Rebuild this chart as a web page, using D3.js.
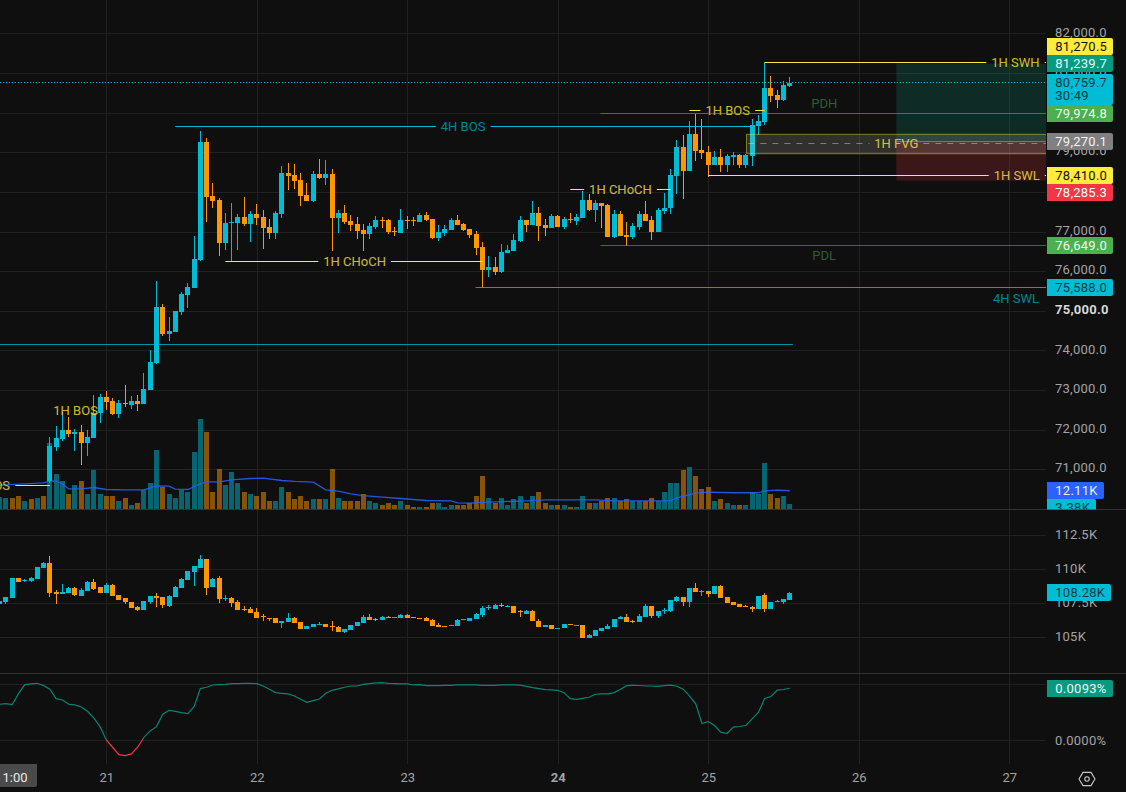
<!DOCTYPE html>
<html><head><meta charset="utf-8">
<script src="https://cdnjs.cloudflare.com/ajax/libs/d3/7.8.5/d3.min.js"></script>
<style>
html,body{margin:0;padding:0;background:#0f0f0f;overflow:hidden}
svg{display:block}
text{font-family:Roboto,"Noto Sans",sans-serif}
</style></head><body><svg id="c" width="1126" height="792"></svg>
<script>
// Hourly candles, main pane, bars 0..118: [open, high, low, close]
const priceOHLC=[[70700,71820,70650,71586],[71560,72089,71460,71778],[71762,72449,71711,71988],[71988,72315,71820,71879],[71888,72005,71460,71938],[71938,72114,71107,71661],[71661,71988,71342,71812],[71787,72869,71787,72424],[72416,72894,72164,72818],[72818,72969,72491,72693],[72718,72793,72366,72391],[72391,72760,72290,72667],[72667,73120,72575,72642],[72617,72844,72517,72718],[72718,72869,72466,72642],[72642,73431,72642,73020],[72995,74001,72995,73699],[73674,75762,73649,75108],[75108,75184,74353,74404],[74404,74856,74228,74479],[74454,75007,74454,75007],[74982,75486,74882,75435],[75410,75712,75083,75611],[75586,76894,75586,76316],[76291,79536,76266,79260],[79260,79360,77247,77876],[77901,78228,77599,77775],[77800,77851,76391,76718],[76718,77473,76542,77222],[77230,77725,76232,77247],[77222,77448,76542,77373],[77373,77876,77146,77196],[77196,77524,76743,77448],[77448,77700,77171,77347],[77373,77549,76567,77096],[77121,77322,76819,76970],[76970,77524,76819,77473],[77448,78656,77347,78480],[78480,78731,78052,78404],[78429,78706,78077,78278],[78304,78480,77649,77901],[77926,78228,77775,77775],[77775,78530,77750,78454],[78454,78832,78329,78354],[78354,78807,78178,78454],[78454,78580,76517,77347],[77347,77549,76970,77473],[77473,77675,77196,77247],[77272,77423,77020,77171],[77196,77373,76819,77020],[77045,77196,76517,76945],[76945,77222,76819,77146],[77121,77398,77071,77297],[77297,77373,77096,77272],[77297,77322,76945,76995],[77020,77121,76894,76995],[76970,77574,76970,77297],[77297,77398,77071,77272],[77297,77373,77146,77272],[77247,77473,77247,77423],[77423,77498,77272,77297],[77322,77322,76819,76844],[76844,77171,76769,76995],[76970,77171,76894,77071],[77045,77347,77045,77297],[77297,77423,77171,77171],[77196,77222,77020,77045],[77071,77071,76844,76920],[76945,77020,76416,76593],[76618,76743,75578,76039],[76039,76391,75863,76115],[76115,76366,75913,75989],[75989,76693,75964,76492],[76467,76668,76467,76542],[76517,76945,76517,76794],[76769,77398,76743,77297],[77297,77297,76995,77171],[77171,77775,77171,77473],[77473,77624,76769,77146],[77171,77322,76894,77096],[77096,77448,77096,77398],[77398,77423,77121,77121],[77121,77373,77071,77322],[77322,77473,77222,77297],[77272,77448,77171,77373],[77347,78027,77347,77800],[77800,77951,77524,77549],[77549,77800,77247,77725],[77725,77725,77096,77649],[77675,77700,76869,76869],[76869,77549,76844,77448],[77448,77524,76894,76894],[76920,77247,76635,76869],[76869,77222,76819,77146],[77121,77524,77045,77448],[77448,77775,77272,77272],[77297,77398,76794,76995],[76995,77599,76995,77549],[77524,77985,77440,77591],[77582,78572,77440,78429],[78404,79310,77960,79134],[79134,79436,77809,78530],[78530,79788,78530,79461],[79461,79964,78782,79033],[79058,79838,78832,78983],[79008,79159,78379,78681],[78681,79033,78681,78882],[78882,79083,78505,78681],[78681,78958,78505,78907],[78882,79008,78681,78933],[78933,78958,78605,78681],[78681,78958,78605,78933],[78907,79838,78656,79687],[79662,79939,79436,79788],[79763,81270,79687,80618],[80618,80920,80266,80417],[80442,80568,80115,80316],[80316,80794,80291,80694],[80669,80895,80644,80760]];
// Volume in thousands, bars -8..-1, then 0..118
const volumeBefore=[8.0,7.1,7.7,8.4,5.2,6.5,7.7,8.4];
const volumeBeforeUp=[1,1,0,0,1,0,1,0];
const volumeK=[42.6,22.6,18.1,10.3,15.5,18.7,10.3,25.8,9.7,9.0,9.0,5.2,7.1,3.2,4.5,12.9,16.8,38.1,14.8,10.3,7.1,12.9,11.6,37.4,58.1,50.3,11.6,26.4,16.1,23.9,16.8,11.6,9.7,9.0,11.0,5.8,5.8,14.2,11.0,6.5,8.4,5.2,6.5,6.5,6.5,26.4,7.1,5.2,5.8,5.8,9.7,5.2,3.9,3.2,3.9,3.2,5.2,3.2,1.9,1.9,1.9,3.9,3.9,1.9,2.6,3.2,2.6,3.9,8.4,21.9,7.1,4.5,7.7,3.2,6.5,9.0,3.9,8.4,11.0,4.5,3.2,2.6,3.2,1.9,1.9,8.4,3.9,4.5,5.8,7.1,7.1,5.2,6.5,5.2,5.2,5.2,7.7,5.6,11.0,16.8,17.4,25.2,27.7,21.9,13.5,14.8,5.8,6.5,3.9,2.6,2.6,2.6,11.0,9.7,29.7,9.7,7.1,8.4,3.38];
// Volume moving average: bar number and value in thousands
const volumeMaBar=[-8,-1,0,1,2,3,5,7,9,12,15,17,19,20,22,24,25,27,29,32,34,37,39,42,44,46,48,50,53,56,60,64,65,67,70,76,79,87,90,99,100,103,105,109,113,114,116,118];
const volumeMaK=[15.7,17.2,18.5,18.3,16.6,13.3,13.3,14.2,12.9,12.7,12.7,15.3,15.1,13.1,12.9,16.6,17.8,17.8,19.1,20.0,20.2,18.7,18.1,17.6,12.7,11.8,10.1,9.0,8.0,7.1,5.8,5.6,4.3,4.1,4.7,5.6,6.2,6.2,5.6,5.6,7.5,10.5,11.2,10.8,10.8,12.0,12.5,12.11];
// Second pane candles, bars -8..118: [open, high, low, close] in thousands
const indexOHLC=[[107.48,107.67,107.48,107.67],[107.60,107.97,107.48,107.97],[107.89,109.36,107.89,109.36],[109.36,109.36,109.07,109.07],[109.17,109.29,109.07,109.22],[109.14,109.44,109.07,109.36],[109.29,110.17,109.29,110.17],[110.10,110.54,110.10,110.47],[110.47,110.98,107.97,108.26],[108.33,108.48,107.45,108.19],[108.19,108.92,108.19,108.33],[108.26,108.70,108.26,108.63],[108.63,108.70,108.04,108.11],[108.04,108.63,108.04,108.48],[108.41,109.14,108.41,109.07],[109.07,109.29,108.48,108.55],[108.70,108.70,108.26,108.26],[108.26,109.00,108.26,108.85],[108.85,108.92,108.04,108.04],[108.11,108.11,107.75,107.75],[107.89,107.89,107.45,107.60],[107.60,107.60,107.16,107.16],[107.23,107.30,106.94,107.01],[107.01,107.67,107.01,107.67],[107.60,108.04,107.45,108.04],[108.04,108.26,107.23,107.89],[107.97,107.97,107.16,107.38],[107.30,108.11,107.23,108.04],[107.97,108.77,107.97,108.70],[108.63,109.36,108.63,109.29],[109.22,109.88,109.22,109.88],[109.80,110.25,108.77,110.25],[110.10,111.05,110.10,110.76],[110.76,110.76,108.11,108.63],[108.70,109.36,108.70,109.29],[109.36,109.51,107.52,107.82],[107.82,108.11,107.67,107.89],[107.89,107.97,107.23,107.52],[107.60,107.75,107.01,107.01],[107.08,107.30,106.94,107.01],[107.08,107.23,106.79,106.79],[106.86,107.16,106.42,106.42],[106.57,106.72,106.20,106.50],[106.42,106.42,106.20,106.35],[106.42,106.42,106.05,106.05],[106.05,106.20,105.69,106.20],[106.13,106.79,106.13,106.42],[106.42,106.50,106.05,106.05],[106.13,106.13,105.61,105.61],[105.61,105.83,105.61,105.83],[105.76,105.98,105.76,105.98],[105.91,106.13,105.91,105.98],[105.98,105.98,105.76,105.76],[105.83,106.20,105.47,105.76],[105.76,105.83,105.39,105.39],[105.39,105.61,105.32,105.61],[105.54,105.91,105.54,105.91],[105.83,106.13,105.83,106.13],[106.05,106.64,106.05,106.50],[106.50,106.72,106.27,106.27],[106.35,106.42,106.20,106.27],[106.27,106.57,106.27,106.50],[106.50,106.57,106.42,106.42],[106.45,106.50,106.45,106.50],[106.42,106.72,106.42,106.64],[106.64,106.72,106.42,106.42],[106.50,106.50,106.45,106.45],[106.40,106.40,106.35,106.35],[106.40,106.50,106.20,106.20],[106.27,106.35,105.83,105.83],[105.91,106.05,105.76,105.76],[105.83,105.83,105.78,105.78],[105.86,105.91,105.86,105.91],[105.83,106.35,105.83,106.27],[106.30,106.35,106.30,106.35],[106.20,106.42,106.20,106.42],[106.35,106.79,106.35,106.72],[106.64,107.30,106.50,107.16],[107.16,107.38,107.01,107.23],[107.08,107.45,107.08,107.38],[107.40,107.52,107.23,107.38],[107.23,107.38,107.23,107.30],[107.30,107.30,106.79,106.79],[106.94,107.01,106.50,106.86],[106.72,107.01,106.72,106.94],[106.94,107.01,106.20,106.20],[106.20,106.35,105.76,105.76],[105.76,105.91,105.76,105.91],[105.91,105.91,105.61,105.61],[105.61,105.69,105.61,105.69],[105.69,105.98,105.69,105.98],[105.98,105.98,105.91,105.91],[105.83,105.91,105.83,105.91],[105.91,105.91,104.95,104.95],[104.95,105.25,104.95,105.17],[105.10,105.54,105.10,105.54],[105.47,105.69,105.47,105.69],[105.61,105.98,105.61,105.83],[105.76,106.35,105.76,106.35],[106.35,106.57,106.35,106.50],[106.50,106.72,106.13,106.13],[106.20,106.27,106.05,106.13],[106.13,106.72,106.13,106.57],[106.50,107.45,106.50,107.30],[107.30,107.30,106.42,106.57],[106.57,106.94,106.42,106.94],[106.94,107.16,106.72,107.01],[106.94,107.75,106.86,107.75],[107.67,108.04,107.60,107.97],[107.97,107.97,107.30,107.60],[107.60,108.63,107.23,108.63],[108.63,109.00,108.33,108.33],[108.37,108.48,108.04,108.41],[108.41,108.41,107.97,108.19],[108.19,108.77,108.19,108.77],[108.77,108.85,107.89,107.89],[107.97,107.97,107.52,107.52],[107.60,107.60,107.38,107.38],[107.45,107.45,107.23,107.23],[107.30,107.38,107.23,107.23],[107.23,107.30,106.86,107.08],[107.08,108.04,107.08,108.04],[108.11,108.26,106.86,107.08],[107.08,107.60,107.08,107.60],[107.60,107.75,107.60,107.67],[107.60,107.82,107.45,107.82],[107.75,108.33,107.75,108.28]];
// Funding rate in percent, bars -8..118
const fundingRate=[.00643,.00655,.00637,.00833,.00994,.01006,.01018,.00976,.00911,.00744,.00720,.00643,.00631,.00596,.00518,.00399,.00244,.00007,-.00124,-.00255,-.00273,-.00243,-.00124,.00054,.00167,.00244,.00465,.00536,.00518,.00494,.00476,.00602,.00923,.00947,.00988,.00994,.01000,.01012,.01012,.01018,.01018,.01012,.00970,.00911,.00851,.00839,.00828,.00792,.00732,.00679,.00709,.00738,.00839,.00893,.00917,.00947,.00970,.00970,.01000,.01012,.01024,.01030,.01018,.01012,.01006,.01006,.00988,.00994,.00976,.00976,.00976,.00982,.00982,.00988,.00988,.00991,.00988,.00982,.00982,.00982,.00988,.00988,.00988,.00985,.00964,.00941,.00923,.00905,.00899,.00893,.00851,.00744,.00732,.00750,.00768,.00822,.00828,.00828,.00851,.00911,.00976,.00982,.00979,.00970,.00970,.00964,.00978,.00984,.00966,.00913,.00794,.00651,.00300,.00335,.00264,.00145,.00121,.00234,.00246,.00264,.00383,.00496,.00746,.00782,.00895,.00907,.0093];
// Axis ticks
const priceTicks=[82000,81000,80000,79000,78000,77000,76000,75000,74000,73000,72000,71000];
const indexTicks=[112.5,110,107.5,105];
const fundingTicks=[0.01,0];
const fundingTickLabels=[0];
const dayBars=[9,33,57,81,105,129,153];
const dayLabels=["21","22","23","24","25","26","27"];
// Levels
const swingHigh=81270.5, swingLow=78410.0, fourHourSwingLow=75588.0;
const prevDayHigh=79974.8, prevDayLow=76649.0;
const fourHourBos=79650, oneHourBosHigh=80060, oneHourBosLow=72479, oldBos=70596;
const chochLow=76249, chochHigh=78066, fourHourLine=74144;
const fvgTop=79454, fvgMid=79227, fvgBottom=78964;
const posTop=81239.7, posEntry=79270.1, posStop=78285.3;
const lastPrice=80759.7, countdown="30:49";
const lastIndex=108.28, lastFunding=0.0093, volumeMaLast=12.11, volumeLast=3.38;

const EDGE=1046, W=1126, H=792, UP="#00bcd4", DOWN="#ff9800", GRID="#212121", AXIS="#a3a3a3", YEL="#ffeb3b", GRN="#4caf50";
const svg=d3.select("#c");
svg.append("rect").attr("width",W).attr("height",H).attr("fill","#0f0f0f");
const x=d3.scaleLinear().domain([9,153]).range([106.3,1009.2]);
const y=d3.scaleLinear().domain([71000,79000]).range([469.3,152.3]);
const yv=d3.scaleLinear().domain([0,10]).range([509.5,494]);
const y2=d3.scaleLinear().domain([105,110]).range([637.3,569.3]);
const y3=d3.scaleLinear().domain([0,0.01]).range([740.3,684.3]);
const defs=svg.append("defs");
function clip(id,y0,y1){defs.append("clipPath").attr("id",id).append("rect").attr("x",0).attr("y",y0).attr("width",EDGE).attr("height",y1-y0);}
clip("p1",0,509.5);clip("p2",510,673);clip("p3",674,764);
defs.append("clipPath").attr("id","fundUp").append("rect").attr("x",0).attr("y",674).attr("width",EDGE).attr("height",y3(0)-674);
defs.append("clipPath").attr("id","fundDown").append("rect").attr("x",0).attr("y",y3(0)).attr("width",EDGE).attr("height",764-y3(0));
defs.append("clipPath").attr("id","tagClip").append("rect").attr("x",1046).attr("y",0).attr("width",80).attr("height",509.5);

// grid
const grid=svg.append("g").attr("class","grid");
function hgrid(scale,ticks){const g=grid.append("g").attr("transform",`translate(${EDGE},0)`).call(d3.axisLeft(scale).tickValues(ticks).tickSize(EDGE).tickFormat(""));
 g.select(".domain").remove();g.selectAll("line").attr("stroke",GRID).attr("shape-rendering","crispEdges");}
hgrid(y,priceTicks);hgrid(y2,indexTicks);hgrid(y3,fundingTicks);
const vg=grid.append("g").attr("transform","translate(0,764)").call(d3.axisBottom(x).tickValues(dayBars).tickSize(-764).tickFormat(""));
vg.select(".domain").remove();vg.selectAll("line").attr("stroke",GRID).attr("shape-rendering","crispEdges");

// candles helper
function candles(parent,rows,first,scale){
 const g=parent.append("g").attr("shape-rendering","crispEdges");
 const s=g.selectAll("g").data(rows).join("g").attr("fill",d=>d[3]>=d[0]?UP:DOWN);
 const bx=(d,i)=>Math.round(x(i+first)-2.5);
 s.append("rect").attr("x",(d,i)=>bx(d,i)+2).attr("width",1).attr("y",d=>scale(d[1])).attr("height",d=>Math.max(1,scale(d[2])-scale(d[1])));
 s.append("rect").attr("x",bx).attr("width",5).attr("y",d=>scale(Math.max(d[0],d[3]))).attr("height",d=>Math.max(1,Math.abs(scale(d[0])-scale(d[3]))));
}

// main pane
const p1=svg.append("g").attr("clip-path","url(#p1)");
const volPre=volumeBefore.map((v,k)=>({b:k-8,v,up:volumeBeforeUp[k]}));
const volMain=volumeK.map((v,k)=>({b:k,v,up:priceOHLC[k][3]>=priceOHLC[k][0]}));
p1.append("g").attr("shape-rendering","crispEdges").selectAll("rect").data(volPre.concat(volMain)).join("rect")
 .attr("x",d=>Math.round(x(d.b)-2.5)).attr("width",5).attr("y",d=>yv(d.v)).attr("height",d=>yv(0)-yv(d.v))
 .attr("fill",d=>d.up?UP:DOWN).attr("fill-opacity",.5);
p1.append("path").datum(volumeMaBar.map((b,k)=>[b,volumeMaK[k]])).attr("fill","none").attr("stroke","#2962ff").attr("stroke-opacity",.85).attr("stroke-width",1.3)
 .attr("d",d3.line().x(d=>x(d[0])).y(d=>yv(d[1])));
candles(p1,priceOHLC,0,y);

// position tool
const pos=p1.append("g");
pos.append("rect").attr("x",x(135)).attr("width",EDGE-x(135)).attr("y",y(posTop)).attr("height",y(posEntry)-y(posTop)).attr("fill","#089981").attr("fill-opacity",.2);
pos.append("rect").attr("x",x(135)).attr("width",EDGE-x(135)).attr("y",y(posEntry)).attr("height",y(posStop)-y(posEntry)).attr("fill","#f23645").attr("fill-opacity",.2);
pos.append("line").attr("x1",x(135)).attr("x2",EDGE).attr("y1",y(posEntry)).attr("y2",y(posEntry)).attr("stroke","#808080").attr("stroke-opacity",.8);

// FVG
const fvg=p1.append("g");
fvg.append("rect").attr("x",x(111.1)).attr("width",EDGE-x(111.1)+2).attr("y",y(fvgTop)).attr("height",y(fvgBottom)-y(fvgTop))
 .attr("fill","#c8c8b0").attr("fill-opacity",.18).attr("stroke",YEL).attr("stroke-opacity",.45);

// levels
function level(o){
 const g=p1.append("g"),py=Math.floor(y(o.price))+.5;
 const x1=x(o.from),x2=o.to===undefined?EDGE:x(o.to);
 let gap=null,t=null;
 if(o.label){
  t=g.append("text").text(o.label).attr("x",x(o.at)).attr("y",py+(o.dy||0)).attr("dy",".35em").attr("text-anchor","middle")
   .attr("font-size",13).attr("fill",o.textColor||o.color).attr("fill-opacity",o.textOpacity||.8);
  if(!o.dy){const b=t.node().getBBox();gap=[b.x-5,b.x+b.width+5];}
 }
 if(o.noLine)return;
 const segs=gap?[[x1,gap[0]],[gap[1],x2]]:[[x1,x2]];
 segs.forEach(s=>{if(s[1]>s[0])g.append("line").attr("x1",s[0]).attr("x2",s[1]).attr("y1",py).attr("y2",py)
   .attr("stroke",o.color).attr("stroke-opacity",o.opacity||1).attr("stroke-dasharray",o.dash||null);});
}
level({price:swingHigh,from:114,label:"1H SWH",at:154,color:YEL});
level({price:fourHourBos,from:20,to:112.2,label:"4H BOS",at:65.9,color:UP,textOpacity:.7});
level({price:oneHourBosHigh,from:102,to:114,label:"1H BOS",at:108.1,color:YEL});
level({price:oneHourBosLow,from:0,label:"1H BOS",at:4.1,color:YEL,noLine:true});
level({price:oldBos,from:-14,to:0,label:"1H BOS",at:-9.9,color:YEL});
level({price:chochLow,from:28,to:69,label:"1H CHoCH",at:48.6,color:YEL});
level({price:chochHigh,from:83,to:99,label:"1H CHoCH",at:91,color:YEL});
level({price:swingLow,from:105,label:"1H SWL",at:154.2,color:YEL});
level({price:fourHourSwingLow,from:67.9,label:"4H SWL",at:154.1,dy:10.5,color:UP,opacity:.85,textOpacity:.7});
level({price:prevDayHigh,from:87.8,label:"PDH",at:123.5,dy:-10,color:GRN,opacity:.6,textOpacity:.5});
level({price:prevDayLow,from:87.8,label:"PDL",at:123.5,dy:10,color:GRN,opacity:.6,textOpacity:.5});
level({price:fourHourLine,from:-20,to:118.5,color:UP,opacity:.75});
level({price:fvgMid,from:111.4,label:"1H FVG",at:135,color:YEL,opacity:.45,dash:"6 6"});
// last price dotted line
p1.append("line").attr("x1",0).attr("x2",EDGE).attr("y1",Math.floor(y(lastPrice))+.5).attr("y2",Math.floor(y(lastPrice))+.5).attr("stroke",UP).attr("stroke-dasharray","1 2");

// pane 2
candles(svg.append("g").attr("clip-path","url(#p2)"),indexOHLC,-8,y2);

// pane 3
const fundLine=d3.line().x((d,i)=>x(i-8)).y(d=>y3(d));
const p3=svg.append("g").attr("clip-path","url(#p3)");
p3.append("g").attr("clip-path","url(#fundUp)").append("path").datum(fundingRate).attr("d",fundLine).attr("fill","none").attr("stroke","#089981").attr("stroke-opacity",.85).attr("stroke-width",1.2);
p3.append("g").attr("clip-path","url(#fundDown)").append("path").datum(fundingRate).attr("d",fundLine).attr("fill","none").attr("stroke","#f23645").attr("stroke-width",1.2);

// pane separators
[[509.5],[673.5]].forEach(d=>svg.append("line").attr("x1",0).attr("x2",W).attr("y1",d[0]).attr("y2",d[0]).attr("stroke","#333"));

// right axes
function rightAxis(scale,ticks,fmt,shift){
 const g=svg.append("g").attr("transform",`translate(1055,${shift})`).call(d3.axisRight(scale).tickValues(ticks).tickSize(0).tickPadding(0).tickFormat(fmt));
 g.select(".domain").remove();
 g.selectAll("text").attr("fill",AXIS).attr("font-size",13).attr("font-family","Roboto").attr("letter-spacing",".25px");
 return g;
}
const fmtP=d3.format(",.1f");
const ax1=rightAxis(y,priceTicks.filter(t=>t!==80000&&t!==78000),fmtP,-1.5);
ax1.selectAll("text").filter(d=>d===75000).attr("font-weight",700).attr("fill","#d8d8d8");
rightAxis(y2,indexTicks,d=>d+"K",-0.5);
rightAxis(y3,fundingTickLabels,d=>d3.format(".4f")(d)+"%",0);

// tags
function tag(txt,top,h,w,bg,fg,clipId){
 const g=svg.append("g");if(clipId)g.attr("clip-path",`url(#${clipId})`);
 g.append("path").attr("d",`M1047,${top}H${1047+w-2}q2,0 2,2V${top+h-2}q0,2 -2,2H1047Z`).attr("fill",bg);
 [].concat(txt).forEach((t,k)=>g.append("text").text(t).attr("x",1055.3).attr("y",top+8.5+k*12.8).attr("dy",".35em").attr("font-size",13).attr("letter-spacing",".25px").attr("fill",fg));
}
tag(fmtP(swingHigh),38,17,66,YEL,"#131313");
tag(fmtP(posTop),55,17,66,"#089981","#eaf6f3");
tag([fmtP(lastPrice),countdown],74,31,66,UP,"#0d3b46");
tag(fmtP(prevDayHigh),105,17,66,GRN,"#f2f7f2");
tag(fmtP(posEntry),133,17,66,"#808080","#f2f2f2");
tag(fmtP(swingLow),167,17,66,YEL,"#131313");
tag(fmtP(posStop),184,17,66,"#f23645","#fff");
tag(fmtP(prevDayLow),237,17,66,GRN,"#f2f7f2");
tag(fmtP(fourHourSwingLow),279,17,66,UP,"#0d3b46");
tag(volumeMaLast.toFixed(2)+"K",482,17,57,"#2962ff","#eef");
tag(volumeLast.toFixed(2)+"K",499,17,49,UP,"#0d3b46","tagClip");
tag(lastIndex.toFixed(2)+"K",584,17,64,UP,"#0d3b46");
tag(lastFunding.toFixed(4)+"%",680,17,66,"#089981","#eaf6f3");

// time axis
const tx=svg.append("g").attr("transform","translate(0,773)").call(d3.axisBottom(x).tickValues(dayBars).tickSize(0).tickPadding(0).tickFormat((d,i)=>dayLabels[i]));
tx.select(".domain").remove();
tx.selectAll("text").attr("fill",AXIS).attr("font-size",13).attr("font-family","Roboto").attr("font-weight",d=>d===81?700:400);
svg.append("path").attr("d","M0,764H37V785q0,2 -2,2H0Z").attr("fill","#4a4a4a");
svg.append("text").text("1:00").attr("x",2.5).attr("y",777).attr("dy",".35em").attr("font-size",13).attr("fill","#e8e8e8");
// settings icon
const hex=d3.range(6).map(k=>{const a=k*Math.PI/3;return [1087+8*Math.cos(a),779+7.6*Math.sin(a)];});
svg.append("path").attr("d",d3.line().curve(d3.curveLinearClosed)(hex)).attr("fill","none").attr("stroke","#c8c8c8").attr("stroke-width",1.1);
svg.append("circle").attr("cx",1087).attr("cy",779).attr("r",2.2).attr("fill","none").attr("stroke","#c8c8c8").attr("stroke-width",1.1);
</script></body></html>
